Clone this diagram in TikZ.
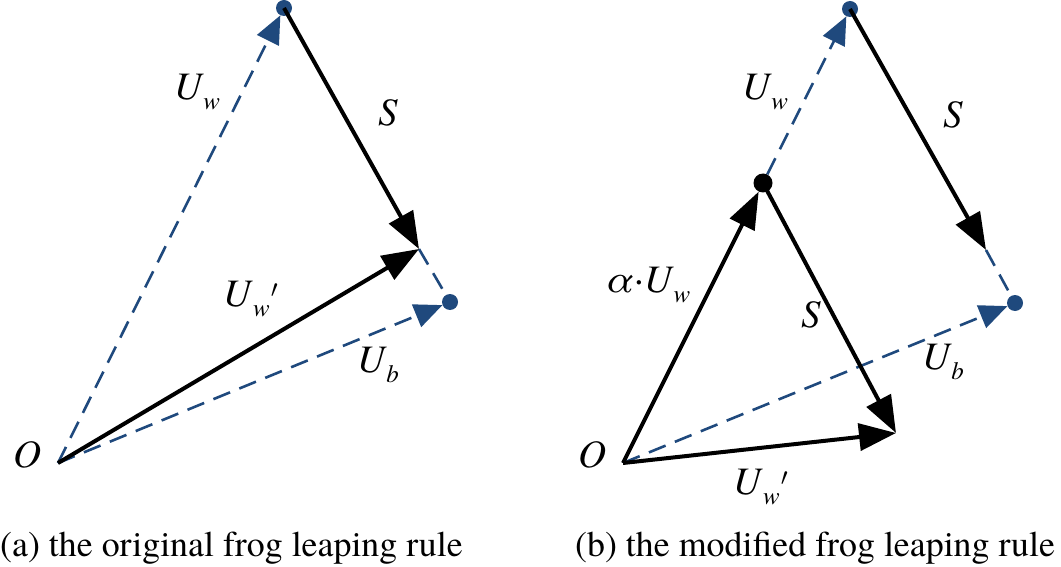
\documentclass[tikz,border=0pt]{standalone}
\usepackage{fontspec}
\setmainfont{texgyretermes}[Extension=.otf, UprightFont=*-regular, ItalicFont=*-italic, BoldFont=*-bold, BoldItalicFont=*-bolditalic]
\usetikzlibrary{arrows.meta}
\definecolor{dblue}{RGB}{31,73,125}
\newcommand{\lbsub}[1]{\raisebox{-0.24em}{\fontsize{25}{25}\selectfont\textit{#1}}}
\newcommand{\labU}[1]{\textit{U}\kern-0.5bp\lbsub{#1}}
\newcommand{\prm}{\kern1bp\ensuremath{^{\prime}}}
\tikzset{
  vec/.style={black, line width=4bp, -{Triangle[length=37bp,width=27bp]}},
  bvec/.style={dblue, line width=2.6bp, dash pattern=on 18bp off 10bp, -{Triangle[length=28bp,width=24bp]}},
  bline/.style={dblue, line width=2.6bp, dash pattern=on 18bp off 10bp},
  bdot/.style={circle, fill=dblue, inner sep=0pt, minimum size=16bp},
  kdot/.style={circle, fill=black, inner sep=0pt, minimum size=19bp},
  lab/.style={font=\fontsize{39}{42}\selectfont, inner sep=0pt},
  captext/.style={font=\fontsize{36}{40}\selectfont, inner sep=0pt, anchor=base west}
}
\begin{document}
\begin{tikzpicture}[x=1bp,y=-1bp]
\useasboundingbox (0,0) rectangle (1061,567);
% ---------- left panel ----------
\coordinate (Oa) at (58,463);
\node[bdot] (Pa) at (284,8) {};
\node[bdot] (Qa) at (450,302) {};
\coordinate (Ta) at (419,249);
\draw[bvec] (Oa) -- (Pa);
\draw[bvec] (Oa) -- (Qa);
\draw[bline] (Ta) -- (Qa);
\draw[vec] (Pa.center) -- (Ta);
\draw[vec] (Oa) -- (Ta);
\node[lab] (la1) at (197,92) {\labU{w}};
\node[lab] (la2) at (388,113) {\textit{S}};
\node[lab] (la3) at (251,299) {\labU{w}\prm};
\node[lab] (la4) at (378,365) {\labU{b}};
\node[lab] (la5) at (28,455) {\textit{O}};
% ---------- right panel ----------
\coordinate (Ob) at (623,463);
\node[bdot] (Pb) at (850,9) {};
\node[bdot] (Qb) at (1015,303) {};
\coordinate (Tb) at (986,250);
\coordinate (Rb) at (896,433);
\draw[bline] (Ob) -- (763,183);
\node[kdot] (Mb) at (763,183) {};
\draw[bvec] (Mb) -- (Pb);
\draw[bvec] (Ob) -- (Qb);
\draw[bline] (Tb) -- (Qb);
\draw[vec] (Pb.center) -- (Tb);
\draw[vec] (Ob) -- (Mb);
\draw[vec] (Mb.center) -- (Rb);
\draw[vec] (Ob) -- (Rb);
\node[lab] (lb1) at (765,92) {\labU{w}};
\node[lab] (lb2) at (953,115) {\textit{S}};
\node[lab] (lb3) at (648,285) {\textit{α}\kern1bp·\labU{w}};
\node[lab] (lb4) at (811,315) {\textit{S}};
\node[lab] (lb5) at (943,362) {\labU{b}};
\node[lab] (lb6) at (593,455) {\textit{O}};
\node[lab] (lb7) at (761,487) {\labU{w}\prm};
% ---------- captions ----------
\node[captext] (ca) at (0,556) {(a) the original frog leaping rule};
\node[captext] (cb) at (575,556) {(b) the modified frog leaping rule};
\end{tikzpicture}
\end{document}
